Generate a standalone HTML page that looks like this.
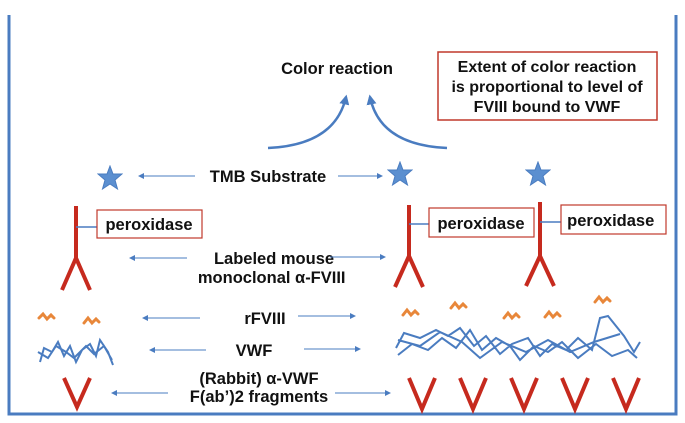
<!DOCTYPE html><html><head><style>body{margin:0;background:#fff}svg{display:block}text{font-family:"Liberation Sans",sans-serif;font-weight:bold;fill:#111}</style></head><body>
<svg width="685" height="423" viewBox="0 0 685 423">
<defs><marker id="a" markerWidth="6" markerHeight="6" refX="5" refY="3" orient="auto"><path d="M0,0L6,3L0,6z" fill="#4a7cc0"/></marker>
<marker id="b" markerWidth="4" markerHeight="4" refX="3" refY="2" orient="auto"><path d="M0,0L4,2L0,4z" fill="#4a7cc0"/></marker>
<symbol id="st" viewBox="-13 -13 26 26"><polygon points="0,-12 3,-4 12,-4 5,2 7.5,11 0,6 -7.5,11 -5,2 -12,-4 -3,-4" fill="#5b8fd0" stroke="#4a7cc0"/></symbol></defs>
<path d="M9,15V414H676V15" fill="none" stroke="#4a7cc0" stroke-width="3"/>
<text x="337" y="74" font-size="16.5" text-anchor="middle">Color reaction</text>
<path d="M268,148Q335,145 346,97" fill="none" stroke="#4a7cc0" stroke-width="2.5" marker-end="url(#b)"/>
<path d="M447,148Q380,145 370,97" fill="none" stroke="#4a7cc0" stroke-width="2.5" marker-end="url(#b)"/>
<rect x="438" y="52" width="219" height="68" fill="#fff" stroke="#c0392b" stroke-width="1.5"/>
<text font-size="16" text-anchor="middle"><tspan x="547" y="72">Extent of color reaction</tspan><tspan x="547" y="92">is proportional to level of</tspan><tspan x="547" y="112">FVIII bound to VWF</tspan></text>
<use href="#st" x="97" y="165" width="26" height="26"/><use href="#st" x="387" y="161" width="26" height="26"/><use href="#st" x="525" y="161" width="26" height="26"/>
<g stroke="#c62a1e" stroke-width="4" fill="none">
<path d="M76,206V258M62,290L76,258L90,290"/><path d="M409,205V256M395,287L409,256L423,287"/><path d="M540,202V256M526,286L540,256L554,286"/>
<path d="M64,378L77,407L90,378"/>
<path d="M409,378L422,409L435,378M460,378L473,409L486,378M511,378L524,409L537,378M562,378L575,409L588,378M613,378L626,409L639,378"/></g>
<g stroke="#4a7cc0" stroke-width="1.5"><path d="M76,227H97M409,224H430M540,222H561"/></g>
<g fill="#fff" stroke="#c0392b" stroke-width="1.2"><rect x="97" y="210" width="105" height="28"/><rect x="429" y="208" width="105" height="29"/><rect x="561" y="205" width="105" height="29"/></g>
<text font-size="16.5" text-anchor="middle"><tspan x="149" y="230">peroxidase</tspan><tspan x="481" y="229">peroxidase</tspan><tspan x="613" y="226">peroxidase</tspan>
<tspan x="268" y="182">TMB Substrate</tspan><tspan x="274" y="264">Labeled mouse</tspan><tspan x="274" y="283">monoclonal α-FVIII</tspan>
<tspan x="265" y="324">rFVIII</tspan><tspan x="254" y="356">VWF</tspan><tspan x="259" y="384">(Rabbit) α-VWF</tspan><tspan x="259" y="402">F(ab’)2 fragments</tspan></text>
<g stroke="#4a7cc0" stroke-width="1" marker-end="url(#a)">
<path d="M195,176H139"/><path d="M338,176H382"/><path d="M187,258H130"/><path d="M330,257H385"/>
<path d="M200,318H143"/><path d="M298,316H355"/><path d="M206,350H150"/><path d="M304,349H360"/><path d="M168,393H112"/><path d="M335,393H390"/></g>
<g fill="none" stroke="#4a7cc0" stroke-width="2">
<path d="M40,362L44,348L52,352L58,342L64,356L70,346L76,362L82,350L90,344L96,356L100,340L108,352L113,365M38,352L48,358L56,346L66,352L74,358L86,346L94,354L104,346L112,360"/>
<path d="M396,348L404,333L420,338L436,330L448,336L460,328L474,346L486,336L500,354L512,344L528,338L540,356L552,344L566,350L578,338L592,350L600,318L608,316L624,336L634,352L640,342M398,355L412,344L428,350L442,338L456,348L470,330L482,350L496,338L510,346L520,360L534,346L548,352L562,342L578,358L596,344L612,356L628,350L637,358M398,340L420,346L440,332L462,342L480,358L502,342L526,352L548,340L570,352L594,342L620,334"/></g>
<g fill="none" stroke="#e8873a" stroke-width="3" stroke-linecap="round">
<path d="M39,318l4,-4l4,5l4,-4l3,3M84,323l4,-5l4,5l4,-4l3,3M403,315l4,-5l4,5l4,-4l3,3M451,308l4,-5l4,5l4,-4l3,3M504,318l4,-5l4,5l4,-4l3,3M545,317l4,-5l4,5l4,-4l3,3M595,302l4,-5l4,5l4,-4l3,3"/></g>
</svg></body></html>
